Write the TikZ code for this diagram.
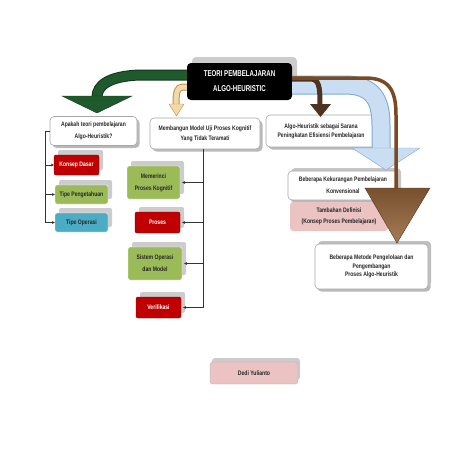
\documentclass[tikz,border=0pt]{standalone}
\usepackage{fontspec}
\setmainfont{Liberation Sans}[FakeStretch=0.78]
\newfontfamily\titlefont{Liberation Sans}[FakeStretch=0.72]
\usetikzlibrary{shadows,arrows.meta}
\definecolor{boxred}{HTML}{C00000}
\definecolor{boxgreen}{HTML}{9BBB59}
\definecolor{boxblue}{HTML}{4BACC6}
\definecolor{boxpink}{HTML}{EBC3C3}
\definecolor{arrgreen}{HTML}{1F5A2C}
\definecolor{arryellow}{HTML}{F2D9A6}
\definecolor{arryellowd}{HTML}{B8925A}
\definecolor{arrdbrown}{HTML}{4E3420}
\definecolor{arrblue}{HTML}{C9DDF3}
\definecolor{arrblued}{HTML}{7FA7D6}
\definecolor{arrbrown}{HTML}{7A4A22}
\definecolor{wood}{HTML}{96643A}
\begin{document}
\begin{tikzpicture}[x=1pt,y=-1pt,
  wbox/.style={draw=gray!70, fill=white, rounded corners=4pt, line width=0.6pt,
    align=center, inner sep=1pt, text=black!85,
    font=\bfseries\fontsize{6.5}{10}\selectfont,
    drop shadow={shadow xshift=2.5pt, shadow yshift=-2.5pt, fill=gray!55, opacity=1}},
  sbox/.style={rounded corners=2pt, align=center, inner sep=1pt,
    font=\bfseries\fontsize{6.5}{12}\selectfont,
    drop shadow={shadow xshift=4pt, shadow yshift=5pt, fill=gray!40, opacity=1}},
  redbox/.style={sbox, fill=boxred, draw=boxred!60!black, text=white},
  greenbox/.style={sbox, fill=boxgreen, draw=white, text=black!85},
  bluebox/.style={sbox, fill=boxblue, draw=white, text=black!85},
  pinkbox/.style={rounded corners=3pt, align=center, inner sep=1pt, fill=boxpink,
    text=black!85, font=\bfseries\fontsize{6.5}{11}\selectfont},
  conn/.style={line width=0.7pt, black!80},
  carr/.style={conn, -{Stealth[length=3pt,width=3pt]}}
]
\useasboundingbox (0,0) rectangle (453,453);

% ---- nodes ----
\node[fill=black, rounded corners=4pt, minimum width=105pt, minimum height=37pt,
  text=white, align=center, inner sep=0pt,
  font=\titlefont\bfseries\fontsize{8.5}{15}\selectfont,
  drop shadow={shadow xshift=5pt, shadow yshift=6pt, fill=gray!40, opacity=1}]
  (title) at (239.5,81.5) {TEORI PEMBELAJARAN\\ALGO-HEURISTIC};

\node[wbox, minimum width=87pt, minimum height=29pt, font=\bfseries\fontsize{6.5}{12}\selectfont]
  (apakah) at (93.5,131) {Apakah teori pembelajaran\\Algo-Heuristik?};
\node[wbox, minimum width=110pt, minimum height=31pt]
  (membangun) at (205,133.5) {Membangun Model Uji Proses Kognitif\\Yang Tidak Teramati};
\node[wbox, minimum width=110pt, minimum height=32pt, font=\bfseries\fontsize{6.5}{9}\selectfont]
  (algo) at (321,131) {Algo-Heuristik sebagai Sarana\\Peningkatan Efisiensi Pembelajaran};
\node[wbox, minimum width=110pt, minimum height=29pt, font=\bfseries\fontsize{6.5}{12}\selectfont,
  drop shadow={shadow xshift=3pt, shadow yshift=3pt, fill=gray!45, opacity=1}]
  (kekurangan) at (343,185.5) {Beberapa Kekurangan Pembelajaran\\Konvensional};
\node[pinkbox, minimum width=98pt, minimum height=29pt]
  (tambahan) at (339,216.5) {Tambahan Definisi\\(Konsep Proses Pembelajaran)};
\node[wbox, minimum width=113pt, minimum height=45pt, font=\bfseries\fontsize{6.5}{8.5}\selectfont,
  drop shadow={shadow xshift=3pt, shadow yshift=3pt, fill=gray!50, opacity=1}]
  (metode) at (371.5,266.5) {Beberapa Metode Pengelolaan dan\\Pengembangan\\Proses Algo-Heuristik};

\node[redbox, minimum width=45pt, minimum height=20pt] (konsep) at (76.5,165) {Konsep Dasar};
\node[greenbox, minimum width=53pt, minimum height=19pt] (tipepeng) at (81.5,194.5) {Tipe Pengetahuan};
\node[bluebox, minimum width=53pt, minimum height=19pt] (tipeop) at (81.5,222.5) {Tipe Operasi};

\node[greenbox, minimum width=53pt, minimum height=33pt] (memerinci) at (153.5,182.5) {Memerinci\\Proses Kognitif};
\node[redbox, minimum width=45pt, minimum height=21pt] (proses) at (157.5,222.5) {Proses};
\node[greenbox, minimum width=54pt, minimum height=33pt] (sistem) at (155,263.5) {Sistem Operasi\\dan Model};
\node[redbox, minimum width=45pt, minimum height=21pt] (verifikasi) at (158.5,307.5) {Verifikasi};

\node[pinkbox, draw=gray!60, minimum width=88pt, minimum height=22pt,
  drop shadow={shadow xshift=2pt, shadow yshift=4pt, fill=gray!40, opacity=1}]
  (dedi) at (254,373) {Dedi Yulianto};

% ---- connectors ----
\coordinate (lstem) at (45,131);
\draw[conn] (apakah.west) -- (lstem) -- (lstem |- tipeop.west);
\foreach \n in {konsep,tipepeng,tipeop}
  \draw[carr] (lstem |- \n.west) -- (\n.west);

\coordinate (mstem) at (203,149);
\draw[conn] (mstem) -- (mstem |- verifikasi.east);
\foreach \n in {memerinci,proses,sistem,verifikasi}
  \draw[carr] (mstem |- \n.east) -- ([xshift=2pt]\n.east);

% ---- big arrows ----
% green
\coordinate (gs) at (title.west |- 0,75);
\draw[line width=11pt, arrgreen!60!black] (gs) -- (140,75) .. controls (108,76) and (97,86) .. (97,97);
\draw[line width=9pt, arrgreen] (gs) -- (140,75) .. controls (108,76) and (97,86) .. (97,97);
\fill[arrgreen, draw=arrgreen!60!black] (62,96) -- (132,96) -- (97,113) -- cycle;

% yellow
\coordinate (ys) at (title.west |- 0,87);
\draw[line width=7pt, arryellowd] (ys) -- (183,87) .. controls (177,87) and (176,92) .. (176,105);
\draw[line width=5pt, arryellow] (ys) -- (183,87) .. controls (177,87) and (176,92) .. (176,105);
\fill[arryellow, draw=arryellowd] (169,104) -- (184,104) -- (176.5,116) -- cycle;

% light blue
\coordinate (bs) at (title.east |- 0,85);
\draw[line width=19pt, arrblued] (bs) -- (345,85) .. controls (373,85) and (381,100) .. (381,125) -- (381,149);
\draw[line width=17pt, arrblue] (bs) -- (345,85) .. controls (373,85) and (381,100) .. (381,125) -- (381,150);
\fill[arrblue, draw=arrblued] (352,148) -- (420,148) -- (386,170) -- cycle;

% dark brown
\coordinate (ds) at (title.east |- 0,79);
\draw[line width=5pt, arrdbrown] (ds) -- (310,79) .. controls (319,79) and (320,86) .. (320,105);
\fill[arrdbrown] (310,104) -- (331,104) -- (320.5,117) -- cycle;

% brown
\coordinate (rs) at (title.east |- 0,78);
\draw[line width=3.5pt, arrbrown] (rs) -- (365,78) .. controls (389,78) and (396,90) .. (396,115) -- (396,190);
\shade[top color=wood!80!black, bottom color=wood!85!white, draw=arrbrown!70!black]
  (365,188) -- (430,188) -- (397,243) -- cycle;
\end{tikzpicture}
\end{document}
